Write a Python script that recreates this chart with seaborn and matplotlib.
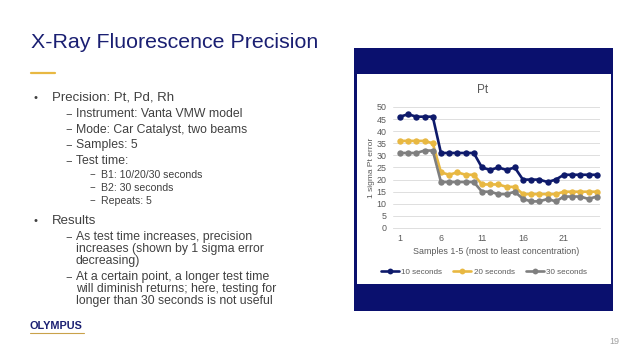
import matplotlib
matplotlib.use("Agg")
import matplotlib.pyplot as plt
import seaborn as sns
import pandas as pd
from matplotlib.patches import Rectangle
from matplotlib.lines import Line2D

samples = list(range(1, 26))
series_names = ["10 seconds", "20 seconds", "30 seconds"]
sec10 = [46, 47, 46, 46, 46, 31, 31, 31, 31, 31, 25, 24, 25, 24, 25, 20, 20, 20, 19, 20, 22, 22, 22, 22, 22]
sec20 = [36, 36, 36, 36, 35, 23, 22, 23, 22, 22, 18, 18, 18, 17, 17, 14, 14, 14, 14, 14, 15, 15, 15, 15, 15]
sec30 = [31, 31, 31, 32, 32, 19, 19, 19, 19, 19, 15, 15, 14, 14, 15, 12, 11, 11, 12, 11, 13, 13, 13, 12, 13]
y_ticks = [0, 5, 10, 15, 20, 25, 30, 35, 40, 45, 50]
x_ticks = [1, 6, 11, 16, 21]

colors = ["#0e1a6b", "#e8b842", "#7f7f7f"]
navy = "#0a106e"
text_col = "#404040"

sns.set_theme(style="white")
plt.rcParams["font.family"] = ["Liberation Sans", "DejaVu Sans"]

df = pd.DataFrame({
    "sample": samples * 3,
    "err": sec10 + sec20 + sec30,
    "series": [series_names[0]] * 25 + [series_names[1]] * 25 + [series_names[2]] * 25,
})

W, H = 638, 359
fig = plt.figure(figsize=(W / 100, H / 100), dpi=100)
fig.patch.set_facecolor("white")

def fx(px):
    return px / W

def fy(py):
    return 1 - py / H

# navy chart frame
fig.patches.append(Rectangle((fx(354), fy(311)), fx(613) - fx(354), fy(48) - fy(311),
                             transform=fig.transFigure, facecolor=navy, edgecolor="none", zorder=-2))
fig.patches.append(Rectangle((fx(357), fy(284)), fx(611) - fx(357), fy(74) - fy(284),
                             transform=fig.transFigure, facecolor="white", edgecolor="none", zorder=-1))

# slide text
fig.text(fx(31), fy(42), "X-Ray Fluorescence Precision", fontsize=15.4, color="#1a1f72",
         va="center", ha="left")
fig.lines.append(Line2D([fx(31), fx(55)], [fy(72.5), fy(72.5)], transform=fig.transFigure,
                        color="#e8b842", linewidth=1.6))

def bullet(y, text, level):
    if level == 0:
        fig.text(fx(33), fy(y), "•", fontsize=8, color=text_col, va="center", ha="left")
        fig.text(fx(52), fy(y), text, fontsize=9.5, color=text_col, va="center", ha="left")
    elif level == 1:
        fig.text(fx(65), fy(y), "−", fontsize=8, color=text_col, va="center", ha="left")
        fig.text(fx(76), fy(y), text, fontsize=8.85, color=text_col, va="center", ha="left")
    elif level == 2:
        fig.text(fx(90), fy(y), "−", fontsize=7, color=text_col, va="center", ha="left")
        fig.text(fx(101), fy(y), text, fontsize=7.6, color=text_col, va="center", ha="left")
    else:
        fig.text(fx(76), fy(y), text, fontsize=8.85, color=text_col, va="center", ha="left")

bullet(98, "Precision: Pt, Pd, Rh", 0)
bullet(114, "Instrument: Vanta VMW model", 1)
bullet(129.5, "Mode: Car Catalyst, two beams", 1)
bullet(145, "Samples: 5", 1)
bullet(161, "Test time:", 1)
bullet(175, "B1: 10/20/30 seconds", 2)
bullet(188, "B2: 30 seconds", 2)
bullet(201, "Repeats: 5", 2)
bullet(221, "Results", 0)
bullet(237, "As test time increases, precision", 1)
bullet(249, "increases (shown by 1 sigma error", 3)
bullet(261, "decreasing)", 3)
bullet(277, "At a certain point, a longer test time", 1)
bullet(289, "will diminish returns; here, testing for", 3)
bullet(301, "longer than 30 seconds is not useful", 3)

fig.text(fx(30), fy(326), "OLYMPUS", fontsize=7.8, color="#1a1f72", fontweight="bold",
         va="center", ha="left")
fig.lines.append(Line2D([fx(30), fx(84)], [fy(332.5), fy(332.5)], transform=fig.transFigure,
                        color="#c9a24a", linewidth=0.8))
fig.text(fx(614), fy(342), "19", fontsize=6.5, color="#a0a0a0", va="center", ha="center")

# chart
ax = fig.add_axes([fx(393), fy(228), fx(600) - fx(393), fy(107) - fy(228)], zorder=2)
ax.set_facecolor("white")
sns.lineplot(data=df, x="sample", y="err", hue="series", hue_order=series_names,
             palette=colors, marker="o", markersize=4.6, markeredgewidth=0,
             linewidth=1.9, ax=ax, legend=False, zorder=3)
ax.set_xlim(0.15, 25.4)
ax.set_ylim(0, 50)
ax.set_yticks(y_ticks)
ax.set_xticks(x_ticks)
ax.yaxis.grid(True, color="#d9d9d9", linewidth=0.6)
ax.xaxis.grid(False)
for s in ["top", "right", "left"]:
    ax.spines[s].set_visible(False)
ax.spines["bottom"].set_color("#d9d9d9")
ax.spines["bottom"].set_linewidth(0.6)
ax.tick_params(axis="both", length=0, labelsize=6.4, colors="#595959", pad=4.5)
ax.set_xlabel("Samples 1-5 (most to least concentration)", fontsize=6.4, color="#595959", labelpad=3)
ax.set_ylabel("1 sigma Pt error", fontsize=6, color="#595959", labelpad=1)
fig.text(fx(483), fy(90), "Pt", fontsize=8.5, color="#595959", ha="center", va="center")

handles = [Line2D([0], [0], color=c, marker="o", markersize=4.2, linewidth=1.9, markeredgewidth=0)
           for c in colors]
fig.legend(handles, series_names, loc="center", bbox_to_anchor=(fx(484), fy(272)), ncol=3,
           frameon=False, fontsize=5.8, handlelength=2.2, columnspacing=1.4, handletextpad=0.3,
           labelcolor="#595959")

fig.savefig("out.png", dpi=100)
